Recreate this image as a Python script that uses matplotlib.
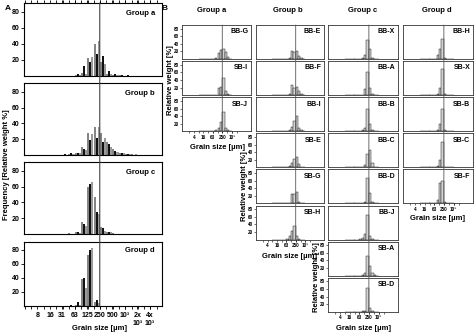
import numpy as np
import matplotlib.pyplot as plt
from matplotlib.patches import ConnectionPatch
from matplotlib.ticker import FixedLocator, NullFormatter

plt.rcParams['font.family'] = ['Liberation Sans', 'DejaVu Sans']
plt.rcParams['font.weight'] = 'bold'

# half-phi grain size classes, lower bound in um
a_classes = [8, 11.3, 16, 22.6, 31.5, 44, 63, 88, 125, 177, 250, 354, 500, 707,
             1000, 1414, 2000, 2828, 4000, 5657]

# panel A: three sample series per group (grey, black, grey)
grp_a = [
    [0, 0, 0, 0, 0.5, 0, 1, 4, 22, 40, 17, 3, 1, 1, 0.5, 0.5, 0.5, 0, 0, 0],
    [0, 0, 0, 0, 0, 0, 2, 12, 18, 27, 25, 6, 2, 1, 1, 0.5, 0.5, 0.5, 0, 0],
    [0, 0, 0, 0, 0, 0, 1, 2, 24, 44, 15, 2, 1, 0.5, 0.5, 0.5, 0, 0, 0, 0],
]
grp_b = [
    [0.5, 0.5, 0.5, 0.5, 0.5, 1.5, 3, 10, 28, 35, 28, 17, 7, 3, 1, 1, 0.5, 0.5, 0.5, 0],
    [0.3, 0.3, 0.3, 0.5, 1, 2, 2, 8, 19, 21, 17, 14, 5, 2, 1, 0.5, 0.5, 0.3, 0, 0],
    [0.5, 0.3, 0.5, 0.3, 0.5, 1, 2, 6, 27, 35, 22, 10, 4, 2, 1, 1, 0.5, 0.5, 0.3, 0],
]
grp_c = [
    [0, 0, 0, 0.3, 0.5, 1, 3, 15, 60, 47, 9, 3, 1, 0.5, 0, 0, 0, 0, 0, 0],
    [0, 0, 0, 0, 0.3, 0.5, 2, 13, 63, 28, 7, 2, 0.5, 0, 0, 0, 0, 0, 0, 0],
    [0, 0, 0, 0, 0.3, 0.5, 1, 10, 66, 25, 4, 3, 0.5, 0, 0, 0, 0, 0, 0, 0],
]
grp_d = [
    [0, 0, 0, 0, 0, 0.5, 2, 38, 72, 6, 0.5, 0, 0, 0, 0, 0, 0, 0, 0, 0],
    [0, 0, 0, 0, 0, 1, 6, 40, 80, 8, 0, 0, 0, 0, 0, 0, 0, 0, 0, 0],
    [0, 0, 0, 0, 0, 0.5, 2, 25, 83, 4, 0, 0, 0, 0, 0, 0, 0, 0, 0, 0],
]
a_names = ["Group a", "Group b", "Group c", "Group d"]
a_ticks = [8, 16, 31.25, 62.5, 125, 250, 500, 1000, 2000, 4000]
a_ticklabels = ["8", "16", "31", "63", "125", "250", "500", "10³", "2x\n10³", "4x\n10³"]

# panel B: one histogram per sample
b_classes = [8, 11.3, 16, 22.6, 31.5, 44, 63, 88, 125, 177, 250, 354, 500, 707]
col_a_names = ["BB-G", "SB-I", "SB-J"]
col_a_vals = [
    [0, 0, 0, 0, 0, 0, 0.5, 2, 15, 25, 27, 18, 4, 1],
    [0, 0, 0, 0, 0, 0, 0.5, 1, 18, 22, 45, 12, 3, 1],
    [0, 0, 0, 0, 0, 0, 0.5, 2, 8, 25, 50, 8, 2, 0],
]
col_b_names = ["BB-E", "BB-F", "BB-I", "SB-E", "SB-G", "SB-H"]
col_b_vals = [
    [0, 0, 0, 0, 0, 0, 1, 3, 22, 18, 20, 8, 3, 1],
    [0, 0, 0, 0, 0, 0, 1, 4, 28, 20, 22, 10, 3, 1],
    [0, 0, 0, 0, 0, 0, 1, 2, 10, 28, 40, 8, 2, 0],
    [0, 0, 0.5, 0.5, 0.5, 1, 1, 3, 12, 22, 26, 8, 2, 1],
    [0, 0, 0, 0, 0, 0, 0.5, 2, 25, 25, 30, 5, 1, 0],
    [0, 0, 0, 0, 0, 0, 0.5, 8, 22, 36, 10, 2, 0, 0],
]
col_c_names = ["BB-X", "BB-A", "BB-B", "BB-C", "BB-D", "BB-J", "SB-A", "SB-D"]
col_c_vals = [
    [0, 0, 0, 0, 0, 0, 0, 2, 10, 50, 27, 3, 0, 0],
    [0, 0, 0, 0, 0, 0, 0, 1, 15, 62, 18, 3, 0, 0],
    [0, 0, 0, 0, 0, 0, 0, 2, 8, 58, 20, 3, 0, 0],
    [0, 0, 0, 0, 0, 0, 0, 1, 5, 35, 45, 12, 2, 0],
    [0, 0, 0, 0, 0, 0, 0, 1, 4, 68, 28, 3, 0, 0],
    [0, 0, 0, 0, 0, 0, 1, 5, 15, 65, 10, 2, 0, 0],
    [0, 0, 0, 0, 0, 0, 0, 1, 8, 52, 26, 7, 2, 0],
    [0, 0, 0, 0, 0, 0, 0, 1, 3, 63, 11, 3, 0, 0],
]
col_d_names = ["BB-H", "SB-X", "SB-B", "SB-C", "SB-F"]
col_d_vals = [
    [0, 0, 0, 0, 0, 0, 1, 10, 27, 52, 2, 0, 0, 0],
    [0, 0, 0, 0, 0, 0, 0, 3, 20, 70, 3, 0, 0, 0],
    [0, 0, 0, 0, 0, 0, 0, 3, 18, 60, 3, 0, 0, 0],
    [0, 0, 0, 0, 0, 0, 0, 4, 20, 67, 2, 0, 0, 0],
    [0, 0, 0, 0, 0, 0, 2, 8, 55, 58, 4, 0, 0, 0],
]
b_headers = ["Group a", "Group b", "Group c", "Group d"]
b_ticks = [4, 16, 62.5, 250, 1000]
b_ticklabels = ["4", "16", "63", "250", "10³"]

W, H = 474, 334
fig = plt.figure(figsize=(W / 100, H / 100), dpi=100)


def px_axes(x0, y0, x1, y1):
    return fig.add_axes([x0 / W, 1 - y1 / H, (x1 - x0) / W, (y1 - y0) / H])


def vline(ax_top, ax_bot, color, lw):
    con = ConnectionPatch(xyA=(250, ax_top.get_ylim()[1]), coordsA=ax_top.transData,
                          xyB=(250, 0), coordsB=ax_bot.transData,
                          color=color, lw=lw, zorder=10)
    fig.add_artist(con)


# ---------------- panel A ----------------
a_rows = [(3, 76), (83, 155), (162, 234), (242, 306)]
a_colors = ["#858585", "#111111", "#9a9a9a"]
lo = np.array(a_classes)
a_axes = []
for k, (name, series) in enumerate(zip(a_names, [grp_a, grp_b, grp_c, grp_d])):
    top, bot = a_rows[k]
    ax = px_axes(24, top, 162, bot)
    n = len(series)
    for j, s in enumerate(series):
        left = lo * 2 ** (0.5 * j / n)
        right = lo * 2 ** (0.5 * (j + 1) / n)
        ax.bar(left, s, width=right - left, align="edge", color=a_colors[j], lw=0)
    ax.set_xscale("log", base=2)
    ax.set_xlim(3.8, 7800)
    ax.set_ylim(0, 91)
    ax.set_yticks([20, 40, 60, 80])
    ax.tick_params(axis="y", labelsize=5, length=2, width=0.6, pad=1)
    ax.set_xticks(a_ticks, a_ticklabels)
    ax.xaxis.set_minor_locator(FixedLocator([4 * 2 ** (i / 2) for i in range(22)]))
    ax.xaxis.set_minor_formatter(NullFormatter())
    ax.tick_params(axis="x", which="both", length=2.5, width=0.6, labelsize=5, pad=2)
    if k < 3:
        ax.tick_params(axis="x", which="both", bottom=False, labelbottom=False)
    if k == 0:
        ax.tick_params(axis="x", which="both", top=True)
    for sp in ax.spines.values():
        sp.set_linewidth(0.8)
    ax.text(0.95, 0.86, name, transform=ax.transAxes, ha="right", va="center", fontsize=5.5)
    a_axes.append(ax)

vline(a_axes[0], a_axes[-1], "#444444", 0.8)
fig.text(8 / W, 1 - 9 / H, "A", fontsize=6, ha="center", va="center")
fig.text(7 / W, 1 - 165 / H, "Frequency [Relative weight %]", rotation=90,
         fontsize=5.5, ha="center", va="center")
fig.text(100 / W, 1 - 328 / H, "Grain size [µm]", fontsize=5.5, ha="center", va="center")

# ---------------- panel B ----------------
col_x = [(182, 251), (256, 324), (328, 398), (403, 473)]
col_names = [col_a_names, col_b_names, col_c_names, col_d_names]
col_vals = [col_a_vals, col_b_vals, col_c_vals, col_d_vals]
ylab_rows = [[0, 1, 2], [3, 4, 5], [6, 7], []]
ylab_pos = [(170, 80), (245, 186), (317, 277), None]
xlab_pos = [(217, 148), (290, 256), (363, 328), (437, 218)]
header_x = [212, 288, 363, 437]
blo = np.array(b_classes)

for c in range(4):
    x0, x1 = col_x[c]
    axes = []
    for r, (name, vals) in enumerate(zip(col_names[c], col_vals[c])):
        top = 25 + 36.1 * r
        ax = px_axes(x0, top, x1, top + 34)
        ax.bar(blo, vals, width=blo * (2 ** 0.5 - 1), align="edge",
               color="#d2d2d2", edgecolor="black", lw=0.3)
        ax.set_xscale("log", base=2)
        ax.set_xlim(2 ** -0.5, 2 ** 14)
        ax.set_ylim(0, 90)
        for sp in ax.spines.values():
            sp.set_linewidth(0.6)
            sp.set_color("#333333")
        if r in ylab_rows[c]:
            ax.set_yticks([20, 40, 60, 80])
            ax.tick_params(axis="y", labelsize=3.3, length=1.5, width=0.4, pad=0.5)
        else:
            ax.set_yticks([])
        last = r == len(col_names[c]) - 1
        if last:
            ax.set_xticks(b_ticks, b_ticklabels)
            ax.xaxis.set_minor_locator(FixedLocator([2 ** i for i in range(1, 12)]))
            ax.xaxis.set_minor_formatter(NullFormatter())
            ax.tick_params(axis="x", which="both", length=1.5, width=0.4,
                           labelsize=3.3, pad=1)
        else:
            ax.tick_params(axis="x", which="both", bottom=False, labelbottom=False)
        ax.text(0.96, 0.8, name, transform=ax.transAxes, ha="right", va="center",
                fontsize=5)
        axes.append(ax)
    vline(axes[0], axes[-1], "#555555", 0.6)
    fig.text(header_x[c] / W, 1 - 11 / H, b_headers[c], fontsize=5.5, ha="center", va="center")
    fx, fy = xlab_pos[c]
    fig.text(fx / W, 1 - fy / H, "Grain size [µm]", fontsize=5.5, ha="center", va="center")
    if ylab_pos[c] is not None:
        yx, yy = ylab_pos[c]
        fig.text(yx / W, 1 - yy / H, "Relative weight [%]", rotation=90,
                 fontsize=5.5, ha="center", va="center")

fig.text(165 / W, 1 - 9 / H, "B", fontsize=6, ha="center", va="center")

fig.savefig("out.png", dpi=100)
